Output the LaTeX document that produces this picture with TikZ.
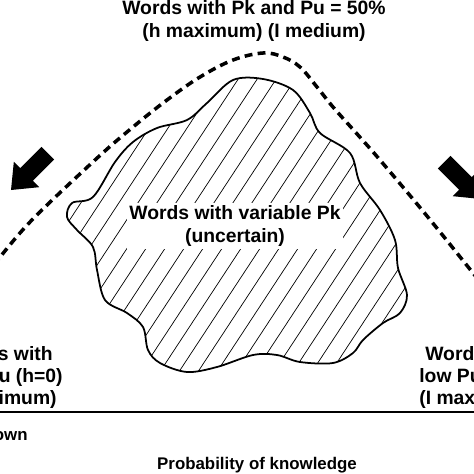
\documentclass[tikz,border=0pt]{standalone}
\usepackage{fontspec}
\setmainfont{Liberation Sans}

\def\blobpath{plot[smooth cycle, tension=0.55] coordinates {(133,142) (157,128) (187,120) (207,103) (233,80) (263,79) (293,90) (310,113) (320,133) (350,153) (360,183) (380,210) (395,240) (398,268) (407,295) (400,313) (383,323) (363,340) (353,353) (333,363) (300,362) (277,355) (253,355) (217,367) (187,372) (160,363) (148,350) (143,327) (127,313) (105,300) (97,270) (93,247) (77,230) (67,217) (72,203) (93,197) (115,162)}}

\begin{document}
\begin{tikzpicture}[
  x=0.02cm, y=-0.02cm,
  font=\bfseries\fontsize{11}{13}\selectfont,
  lbl/.style={inner sep=0pt},
  small/.style={lbl, font=\bfseries\fontsize{9.6}{11}\selectfont},
  curve/.style={line width=2pt, dash pattern=on 4.5pt off 3pt},
  blob/.style={line width=1pt},
  hatch/.style={line width=0.4pt},
  bigarrow/.style={fill=black},
]
  \useasboundingbox (0,0) rectangle (474,474);
  \clip (0,0) rectangle (474,474);

  \node[lbl, align=center] (top) at (254,21) {Words with Pk and Pu = 50\%\\(h maximum) (I medium)};

  \draw[curve] plot[smooth, tension=0.6] coordinates {(-6,265) (30,222) (95,160) (133,127) (167,100) (200,77) (233,60) (263,53) (283,57) (300,67) (317,87) (333,107) (358,135) (380,160) (427,216) (473,273) (482,284)};

  \begin{scope}
    \clip \blobpath;
    \foreach \x in {-80,-61,...,440}
      \draw[hatch] (\x,390) -- ++(220,-335);
  \end{scope}
  \draw[blob] \blobpath;

  \node[lbl, fill=white, inner sep=1.5pt, align=center] (mid) at (235,226) {Words with variable Pk\\(uncertain)};

  \fill[bigarrow, shift={(11,190)}, rotate=45] (0,0) -- (22,18) -- (22,9) -- (52,9) -- (52,-9) -- (22,-9) -- (22,-18) -- cycle;
  \fill[bigarrow, shift={(481,199)}, rotate=135] (0,0) -- (22,18) -- (22,9) -- (52,9) -- (52,-9) -- (22,-9) -- (22,-18) -- cycle;

  \node[lbl, anchor=base east] (lefta) at (53,360) {s with};
  \node[lbl, anchor=base east] (leftb) at (63,382) {u (h=0)};
  \node[lbl, anchor=base east] (leftc) at (57,404) {imum)};
  \node[lbl, anchor=base west] (righta) at (425,360) {Word};
  \node[lbl, anchor=base west] (rightb) at (419,382) {low Pu};
  \node[lbl, anchor=base west] (rightc) at (419,404) {(I max};

  \coordinate (axl) at (0,412);
  \coordinate (axr) at (474,412);
  \draw[line width=1.1pt] (axl) -- (axr);

  \node[small, anchor=base east] (unk) at (28,440) {own};
  \node[small, anchor=base] (xlabel) at (257,469) {Probability of knowledge};
\end{tikzpicture}
\end{document}
